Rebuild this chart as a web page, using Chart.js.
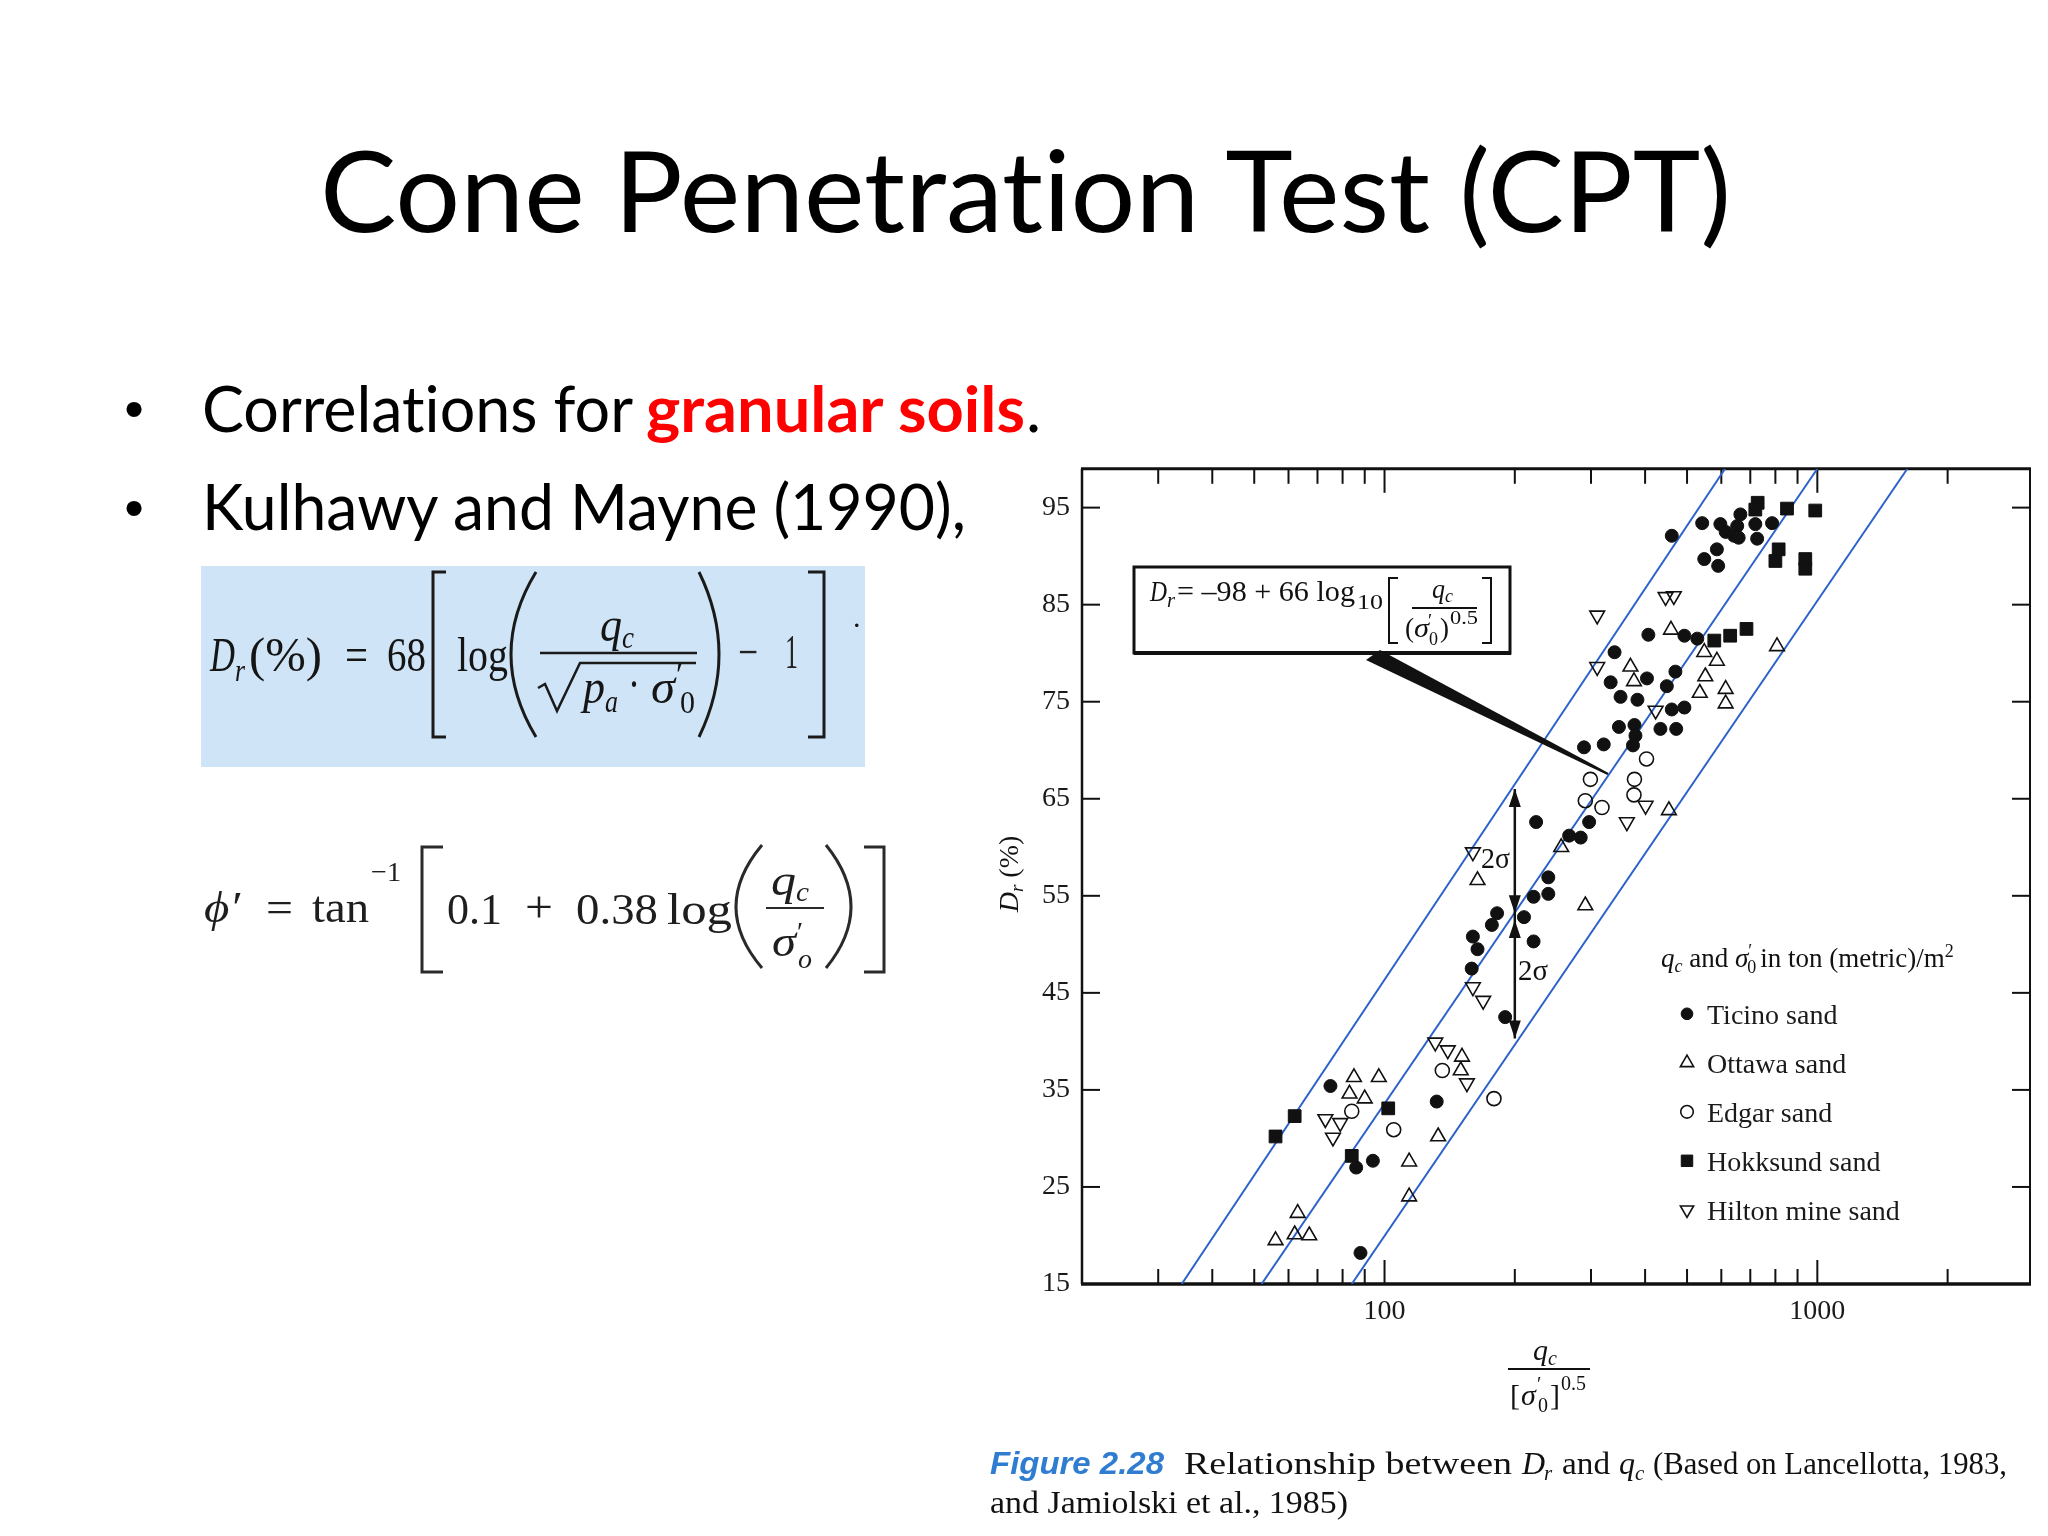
<!DOCTYPE html>
<html>
<head>
<meta charset="utf-8">
<script src="https://cdn.jsdelivr.net/npm/chart.js@4.4.1/dist/chart.umd.min.js"></script>
<style>
  html, body { margin: 0; padding: 0; background: #fff; }
  #slide { position: relative; width: 2048px; height: 1536px; overflow: hidden; background: #fff; }
  #cpt { position: absolute; left: 960px; top: 440px; }
  #overlay { position: absolute; left: 0; top: 0; font-variant-ligatures: none; }
  .serif { font-family: 'Liberation Serif', 'Times New Roman', serif; }
</style>
</head>
<body>
<div id="slide">
  <canvas id="cpt" width="1088" height="920"></canvas>

  <svg id="overlay" width="2048" height="1536" xmlns="http://www.w3.org/2000/svg">
    <!-- title -->
    <text x="320" y="232" font-family="Lato, 'Open Sans', sans-serif" font-weight="400" font-size="112"
          textLength="1411" lengthAdjust="spacingAndGlyphs" fill="#000">Cone Penetration Test (CPT)</text>

    <!-- bullets -->
    <g font-family="Lato, 'Open Sans', sans-serif" font-size="64" fill="#000">
      <text x="134" y="428" font-family="'Liberation Sans', Arial, sans-serif" font-size="56" text-anchor="middle">•</text>
      <text x="202" y="432" textLength="431" lengthAdjust="spacingAndGlyphs">Correlations for</text>
      <text x="646" y="432" fill="#ff0000" font-weight="700" textLength="379" lengthAdjust="spacingAndGlyphs">granular soils</text>
      <text x="1026" y="432">.</text>
      <text x="134" y="527" font-family="'Liberation Sans', Arial, sans-serif" font-size="56" text-anchor="middle">•</text>
      <text x="202" y="530" textLength="764" lengthAdjust="spacingAndGlyphs">Kulhawy and Mayne (1990),</text>
    </g>

    <!-- formula 1 on blue panel -->
    <rect x="201" y="566" width="664" height="201" fill="#cfe4f6"/>
    <g class="serif" fill="#151515" stroke="none">
      <text x="210" y="671" font-size="48" font-style="italic" textLength="25" lengthAdjust="spacingAndGlyphs">D</text>
      <text x="235" y="681" font-size="32" font-style="italic" textLength="10" lengthAdjust="spacingAndGlyphs">r</text>
      <text x="249" y="671" font-size="48" textLength="73" lengthAdjust="spacingAndGlyphs">(%)</text>
      <text x="345" y="671" font-size="48" textLength="23" lengthAdjust="spacingAndGlyphs">=</text>
      <text x="387" y="671" font-size="48" textLength="39" lengthAdjust="spacingAndGlyphs">68</text>
      <text x="457" y="671" font-size="48" textLength="51" lengthAdjust="spacingAndGlyphs">log</text>
      <text x="600" y="641" font-size="48" font-style="italic" textLength="22" lengthAdjust="spacingAndGlyphs">q</text>
      <text x="622" y="648" font-size="32" font-style="italic" textLength="12" lengthAdjust="spacingAndGlyphs">c</text>
      <text x="583" y="703" font-size="48" font-style="italic" textLength="22" lengthAdjust="spacingAndGlyphs">p</text>
      <text x="605" y="712" font-size="32" font-style="italic" textLength="13" lengthAdjust="spacingAndGlyphs">a</text>
      <text x="628" y="700" font-size="48" textLength="12" lengthAdjust="spacingAndGlyphs">·</text>
      <text x="651" y="703" font-size="48" font-style="italic" textLength="24" lengthAdjust="spacingAndGlyphs">σ</text>
      <text x="676" y="685" font-size="32">′</text>
      <text x="680" y="713" font-size="32" textLength="15" lengthAdjust="spacingAndGlyphs">0</text>
      <text x="738" y="668" font-size="48" fill="#222" textLength="20" lengthAdjust="spacingAndGlyphs">−</text>
      <text x="785" y="668" font-size="48" fill="#222" textLength="13" lengthAdjust="spacingAndGlyphs">1</text>
      <text x="853" y="627" font-size="30">.</text>
    </g>
    <g stroke="#1a1a1a" fill="none" stroke-width="3">
      <path d="M446 572 H433 V737 H446"/>
      <path d="M536 572 Q486 654 536 737"/>
      <line x1="540" y1="653" x2="697" y2="653" stroke-width="2.5"/>
      <path d="M538 688 L545 684 L557 711 L580 663 H696" stroke-width="2.5"/>
      <path d="M699 572 Q739 654 699 737"/>
      <path d="M808 572 H824 V737 H808"/>
    </g>

    <!-- formula 2 -->
    <g class="serif" fill="#1e1e1e">
      <text x="204" y="922" font-size="44" font-style="italic" textLength="36" lengthAdjust="spacingAndGlyphs">ϕ′</text>
      <text x="266" y="922" font-size="44" textLength="27" lengthAdjust="spacingAndGlyphs">=</text>
      <text x="312" y="922" font-size="44" textLength="57" lengthAdjust="spacingAndGlyphs">tan</text>
      <text x="371" y="881" font-size="28" textLength="30" lengthAdjust="spacingAndGlyphs">−1</text>
      <text x="447" y="924" font-size="44" textLength="55" lengthAdjust="spacingAndGlyphs">0.1</text>
      <text x="525" y="922" font-size="44" textLength="28" lengthAdjust="spacingAndGlyphs">+</text>
      <text x="576" y="924" font-size="44" textLength="82" lengthAdjust="spacingAndGlyphs">0.38</text>
      <text x="667" y="924" font-size="44" textLength="65" lengthAdjust="spacingAndGlyphs">log</text>
      <text x="771" y="895" font-size="44" font-style="italic" textLength="25" lengthAdjust="spacingAndGlyphs">q</text>
      <text x="796" y="901" font-size="28" font-style="italic" textLength="13" lengthAdjust="spacingAndGlyphs">c</text>
      <text x="772" y="956" font-size="44" font-style="italic" textLength="24" lengthAdjust="spacingAndGlyphs">σ</text>
      <text x="797" y="941" font-size="28">′</text>
      <text x="798" y="968" font-size="28" font-style="italic">o</text>
    </g>
    <g stroke="#2a2a2a" fill="none" stroke-width="3">
      <path d="M443 847 H422 V972 H443"/>
      <path d="M762 845 Q710 907 762 968"/>
      <line x1="766" y1="908" x2="824" y2="908" stroke-width="2"/>
      <path d="M826 845 Q876 907 826 968"/>
      <path d="M864 847 H884 V972 H864"/>
    </g>

    <!-- equation box inside the plot -->
    <rect x="1134" y="567" width="376" height="86" fill="#fff" stroke="#111" stroke-width="3"/>
    <line x1="1134" y1="653" x2="1511" y2="653" stroke="#111" stroke-width="4"/>
    <polygon points="1366,660 1380,650 1608.5,772.9 1607.5,775.1" fill="#111"/>
    <g class="serif" fill="#111">
      <text x="1150" y="601" font-size="30" font-style="italic" textLength="17" lengthAdjust="spacingAndGlyphs">D</text>
      <text x="1167" y="607" font-size="20" font-style="italic" textLength="8" lengthAdjust="spacingAndGlyphs">r</text>
      <text x="1177" y="601" font-size="30" textLength="178" lengthAdjust="spacingAndGlyphs">= –98 + 66 log</text>
      <text x="1357" y="609" font-size="20" textLength="26" lengthAdjust="spacingAndGlyphs">10</text>
      <text x="1432" y="598" font-size="28" font-style="italic" textLength="13" lengthAdjust="spacingAndGlyphs">q</text>
      <text x="1445" y="602" font-size="19" font-style="italic" textLength="8" lengthAdjust="spacingAndGlyphs">c</text>
      <text x="1405" y="637" font-size="28" textLength="9" lengthAdjust="spacingAndGlyphs">(</text>
      <text x="1414" y="637" font-size="28" font-style="italic" textLength="15" lengthAdjust="spacingAndGlyphs">σ</text>
      <text x="1428" y="627" font-size="19">′</text>
      <text x="1429" y="645" font-size="19" textLength="9" lengthAdjust="spacingAndGlyphs">0</text>
      <text x="1440" y="637" font-size="28" textLength="9" lengthAdjust="spacingAndGlyphs">)</text>
      <text x="1450" y="624" font-size="19" textLength="28" lengthAdjust="spacingAndGlyphs">0.5</text>
    </g>
    <g stroke="#111" fill="none" stroke-width="2">
      <path d="M1398 578 H1389 V643 H1398"/>
      <line x1="1412" y1="608" x2="1477" y2="608"/>
      <path d="M1482 578 H1491 V643 H1482"/>
    </g>

    <!-- 2 sigma labels -->
    <g class="serif" fill="#111" font-size="30">
      <text x="1481" y="868" textLength="29" lengthAdjust="spacingAndGlyphs">2σ</text>
      <text x="1518" y="980" textLength="30" lengthAdjust="spacingAndGlyphs">2σ</text>
    </g>

    <!-- legend title -->
    <text class="serif" x="1661" y="967" font-size="27" fill="#111"><tspan font-style="italic">q</tspan><tspan font-style="italic" font-size="18" dy="5">c</tspan><tspan dy="-5"> and </tspan><tspan font-style="italic">σ</tspan><tspan font-size="18" dy="-10">′</tspan><tspan font-size="18" dy="16" dx="-5">0</tspan><tspan dy="-6" dx="4">in ton (metric)/m</tspan><tspan font-size="18" dy="-10">2</tspan></text>

    <!-- axis titles -->
    <text class="serif" transform="translate(1018 874) rotate(-90)" font-size="28" fill="#111" text-anchor="middle"><tspan font-style="italic">D</tspan><tspan font-style="italic" font-size="19" dy="5">r</tspan><tspan dy="-5"> (%)</tspan></text>
    <g class="serif" fill="#111">
      <text x="1533" y="1360" font-size="30" font-style="italic">q</text>
      <text x="1548" y="1365" font-size="20" font-style="italic">c</text>
      <text x="1510" y="1405" font-size="30">[</text>
      <text x="1521" y="1405" font-size="30" font-style="italic">σ</text>
      <text x="1537" y="1391" font-size="20">′</text>
      <text x="1538" y="1412" font-size="20">0</text>
      <text x="1550" y="1405" font-size="30">]</text>
      <text x="1561" y="1390" font-size="20">0.5</text>
    </g>
    <line x1="1508" y1="1369" x2="1590" y2="1369" stroke="#111" stroke-width="2"/>

    <!-- caption -->
    <text x="990" y="1474" font-family="'Liberation Sans', Arial, sans-serif" font-weight="700" font-style="italic"
          font-size="31" fill="#2f7dd1" textLength="174" lengthAdjust="spacingAndGlyphs">Figure 2.28</text>
    <g class="serif" fill="#111" font-size="32">
      <text x="1184" y="1474" textLength="328" lengthAdjust="spacingAndGlyphs">Relationship between</text>
      <text x="1522" y="1474" font-style="italic">D</text>
      <text x="1544" y="1480" font-size="21" font-style="italic">r</text>
      <text x="1562" y="1474" textLength="48" lengthAdjust="spacingAndGlyphs">and</text>
      <text x="1619" y="1474" font-style="italic">q</text>
      <text x="1635" y="1480" font-size="21" font-style="italic">c</text>
      <text x="1653" y="1474" textLength="354" lengthAdjust="spacingAndGlyphs">(Based on Lancellotta, 1983,</text>
      <text x="990" y="1513" textLength="358" lengthAdjust="spacingAndGlyphs">and Jamiolski et al., 1985)</text>
    </g>
  </svg>
</div>

<script>
// axis ticks
const xTicks = [30, 40, 50, 60, 70, 80, 90, 100, 200, 300, 400, 500, 600, 700, 800, 900, 1000, 2000];
const xLabels = [100, 1000];
const yTicks = [15, 25, 35, 45, 55, 65, 75, 85, 95];

// data: [qc / sqrt(sigma'0), Dr %]
const ticinoSand = [
  [461, 92.1], [542, 93.4], [597, 93.3], [614, 92.5], [664, 94.3], [653, 93.1], [642, 92.1],
  [658, 91.9], [719, 93.3], [726, 91.8], [786, 93.4], [586, 90.7], [548, 89.7], [590, 89.0],
  [407, 81.9], [493, 81.8], [528, 81.5], [340, 80.1], [333, 77.0], [404, 77.4], [470, 78.1],
  [449, 76.6], [351, 75.5], [384, 75.2], [461, 74.2], [493, 74.4], [348, 72.4], [378, 72.6],
  [380, 71.5], [375, 70.5], [434, 72.2], [472, 72.2], [289, 70.3], [321, 70.6], [224, 62.6],
  [297, 62.6], [267, 61.2], [284, 61.0], [239, 56.9], [239, 55.2], [221, 54.9], [182, 53.2],
  [177, 52.0], [210, 52.8], [221, 50.3], [160, 50.8], [164, 49.5], [159, 47.5], [190, 42.5],
  [132, 33.8], [75, 35.4], [86, 27.0], [94, 27.7], [88, 18.2]
];
const ottawaSand = [
  [459, 82.4], [807, 80.7], [548, 80.1], [586, 79.2], [370, 78.6], [377, 77.1], [551, 77.6],
  [535, 75.9], [614, 76.3], [614, 74.8], [454, 63.8], [256, 60.0], [164, 56.6], [291, 54.0],
  [151, 38.4], [150, 37.0], [133, 30.2], [114, 27.6], [114, 24.0], [85, 36.3], [97, 36.3],
  [83, 34.6], [90, 34.1], [63, 22.3], [56, 19.5], [62, 20.1], [67, 20.0]
];
const edgarSand = [
  [403, 69.1], [299, 67.0], [378, 67.0], [377, 65.4], [291, 64.8], [318, 64.1],
  [136, 37.0], [179, 34.1], [84, 32.8], [105, 30.9]
];
const hokksundSand = [
  [728, 95.5], [719, 94.8], [851, 94.9], [989, 94.7], [814, 90.7], [800, 89.5], [938, 89.7],
  [938, 88.7], [578, 81.3], [629, 81.8], [686, 82.5], [102, 33.1], [62, 32.3], [56, 30.2], [84, 28.2]
];
const hiltonMineSand = [
  [446, 85.8], [466, 85.9], [310, 83.9], [310, 78.6], [423, 74.1], [401, 64.3], [363, 62.6],
  [160, 59.5], [160, 45.6], [169, 44.2], [131, 39.9], [140, 39.1], [155, 35.7], [73, 32.0],
  [79, 31.6], [76, 30.1]
];

// band lines (end points)
const upperBand = [[34, 15], [612, 99]];
const meanLine = [[52, 15], [1000, 99]];
const lowerBand = [[84, 15], [1614, 99]];

// 2 sigma arrow at qc/sqrt(sigma') = 200
const sigmaX = 200;
const sigmaTop = 66, sigmaMidDown = 53.2, sigmaMidUp = 52.5, sigmaBottom = 40.3;

const toXY = arr => arr.map(p => ({ x: p[0], y: p[1] }));
const ink = '#111';
const hollow = 'rgba(255,255,255,0)';
const blue = '#2b62c9';

Chart.defaults.font.family = "'Liberation Serif', 'Times New Roman', serif";
Chart.defaults.color = '#1a1a1a';

const pointSets = [
  { label: 'Ticino sand', data: toXY(ticinoSand), pointStyle: 'circle', pointRadius: 6.5,
    backgroundColor: ink, borderColor: ink, borderWidth: 1 },
  { label: 'Ottawa sand', data: toXY(ottawaSand), pointStyle: 'triangle', pointRadius: 8.5,
    backgroundColor: hollow, borderColor: ink, borderWidth: 1.6 },
  { label: 'Edgar sand', data: toXY(edgarSand), pointStyle: 'circle', pointRadius: 7,
    backgroundColor: hollow, borderColor: ink, borderWidth: 1.6 },
  { label: 'Hokksund sand', data: toXY(hokksundSand), pointStyle: 'rect', pointRadius: 9,
    backgroundColor: ink, borderColor: ink, borderWidth: 1 },
  { label: 'Hilton mine sand', data: toXY(hiltonMineSand), pointStyle: 'triangle', rotation: 180,
    pointRadius: 8.5, backgroundColor: hollow, borderColor: ink, borderWidth: 1.6 }
];
const lineSets = [upperBand, meanLine, lowerBand].map(l => ({
  label: '', data: toXY(l), showLine: true, pointRadius: 0, borderColor: blue,
  borderWidth: 2, fill: false, order: 10
}));

// frame with inward ticks
const framePlugin = {
  id: 'frame',
  beforeDatasetsDraw(chart) {
    const { ctx, chartArea: a, scales: { x, y } } = chart;
    ctx.save();
    ctx.strokeStyle = ink;
    ctx.lineWidth = 2;
    const seg = (x1, y1, x2, y2) => { ctx.beginPath(); ctx.moveTo(x1, y1); ctx.lineTo(x2, y2); ctx.stroke(); };
    xTicks.forEach(v => {
      const px = x.getPixelForValue(v);
      const len = xLabels.includes(v) ? 24 : 15;
      seg(px, a.bottom, px, a.bottom - len);
      seg(px, a.top, px, a.top + len);
    });
    yTicks.forEach(v => {
      const py = y.getPixelForValue(v);
      seg(a.left, py, a.left + 18, py);
      seg(a.right, py, a.right - 18, py);
    });
    ctx.lineWidth = 3.5; seg(a.left - 1, a.bottom, a.right + 1, a.bottom);
    ctx.lineWidth = 3; seg(a.left - 1, a.top, a.right + 1, a.top);
    ctx.lineWidth = 2.5; seg(a.left, a.top, a.left, a.bottom);
    ctx.lineWidth = 2; seg(a.right, a.top, a.right, a.bottom);
    ctx.restore();
  }
};

// 2 sigma arrows + legend
const extrasPlugin = {
  id: 'extras',
  afterDatasetsDraw(chart) {
    const { ctx, chartArea: a, scales: { x, y } } = chart;
    ctx.save();
    ctx.strokeStyle = ink; ctx.fillStyle = ink; ctx.lineWidth = 2.5;
    const px = x.getPixelForValue(sigmaX);
    ctx.beginPath();
    ctx.moveTo(px, y.getPixelForValue(sigmaTop));
    ctx.lineTo(px, y.getPixelForValue(sigmaBottom));
    ctx.stroke();
    const head = (tipY, dir) => {
      ctx.beginPath();
      ctx.moveTo(px, tipY);
      ctx.lineTo(px - 6, tipY - dir * 18);
      ctx.lineTo(px + 6, tipY - dir * 18);
      ctx.closePath(); ctx.fill();
    };
    head(y.getPixelForValue(sigmaTop), -1);
    head(y.getPixelForValue(sigmaMidDown), 1);
    head(y.getPixelForValue(sigmaMidUp), -1);
    head(y.getPixelForValue(sigmaBottom), 1);

    // legend
    const lx = a.left + 605, ly = a.top + 545, step = 49;
    ctx.font = "28px 'Liberation Serif', 'Times New Roman', serif";
    ctx.textBaseline = 'middle';
    pointSets.forEach((ds, i) => {
      const yy = ly + i * step;
      ctx.fillStyle = ds.backgroundColor; ctx.strokeStyle = ds.borderColor;
      ctx.lineWidth = ds.borderWidth;
      Chart.helpers.drawPoint(ctx, {
        pointStyle: ds.pointStyle, rotation: ds.rotation || 0,
        radius: ds.pointRadius * 0.9, borderWidth: ds.borderWidth
      }, lx, yy);
      ctx.fillStyle = '#1a1a1a';
      ctx.fillText(ds.label, lx + 20, yy + 3);
    });
    ctx.restore();
  }
};

new Chart(document.getElementById('cpt'), {
  type: 'scatter',
  data: { datasets: [...pointSets, ...lineSets] },
  options: {
    responsive: false,
    animation: false,
    layout: { padding: { left: 0, top: 28, right: 18, bottom: 0 } },
    plugins: { legend: { display: false }, tooltip: { enabled: false } },
    scales: {
      x: {
        type: 'logarithmic', min: 20, max: 3100,
        afterBuildTicks: s => { s.ticks = xTicks.map(v => ({ value: v })); },
        afterFit: s => { s.height = 76; },
        grid: { display: false, drawTicks: false },
        border: { display: false },
        ticks: {
          autoSkip: false, maxRotation: 0, padding: 11,
          font: { size: 28 }, color: '#1a1a1a',
          callback: v => xLabels.includes(v) ? String(v) : ''
        }
      },
      y: {
        min: 15, max: 99,
        afterBuildTicks: s => { s.ticks = yTicks.map(v => ({ value: v })); },
        afterFit: s => { s.width = 122; },
        grid: { display: false, drawTicks: false },
        border: { display: false },
        ticks: { padding: 12, font: { size: 28 }, color: '#1a1a1a' }
      }
    }
  },
  plugins: [framePlugin, extrasPlugin]
});
</script>
</body>
</html>
